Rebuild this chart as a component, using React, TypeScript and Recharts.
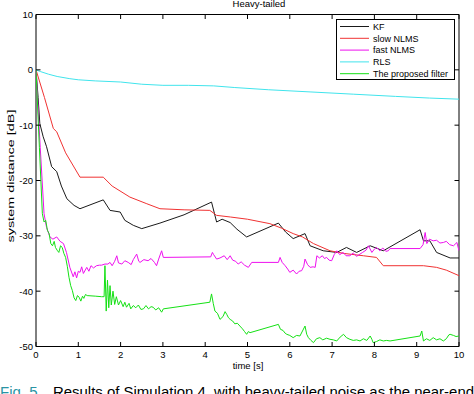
import React from 'react';
import { LineChart, Line, XAxis, YAxis, ReferenceArea, Legend } from 'recharts';

// ---- data ----
const xTicks = [0, 1, 2, 3, 4, 5, 6, 7, 8, 9, 10];
const yTicks = [-50, -40, -30, -20, -10, 0, 10];
const seriesNames = ['KF', 'slow NLMS', 'fast NLMS', 'RLS', 'The proposed filter'];

const rlsTime = [0, 0.1, 0.3, 0.5, 0.8, 1.0, 1.4, 2.0, 2.5, 3.0, 3.6, 4.2, 4.7, 5.5, 6.5, 7.5, 8.5, 9.3, 10];
const rlsDb = [0, -0.3, -0.8, -1.2, -1.6, -1.8, -2.0, -2.2, -2.6, -2.8, -2.8, -2.9, -3.2, -3.6, -4.0, -4.4, -4.8, -5.1, -5.3];

const slowTime = [0, 0.2, 0.41, 0.49, 0.7, 1.04, 1.59, 1.8, 2.22, 2.62, 2.93, 3.5, 4.11, 4.27, 4.6, 5.0, 5.53, 5.8, 6.08, 6.3, 6.56, 6.95, 7.3, 7.74, 8.05, 8.21, 9.16, 9.47, 9.7, 10];
const slowDb = [0, -5, -10.6, -11.2, -15, -19.4, -19.4, -21, -23, -24.2, -25.1, -25.3, -25.4, -26.3, -26.6, -27.0, -27.8, -28.6, -29.6, -30.2, -31.4, -32.7, -33.2, -33.6, -33.9, -35.4, -35.4, -35.7, -36.2, -37.2];

const kfTime = [0, 0.05, 0.09, 0.17, 0.25, 0.37, 0.49, 0.6, 0.73, 0.9, 1.04, 1.59, 1.75, 1.99, 2.1, 2.3, 2.5, 2.93, 3.5, 4.15, 4.27, 4.4, 4.59, 4.75, 4.98, 5.73, 5.9, 6.08, 6.36, 6.48, 6.79, 7.11, 7.34, 7.58, 7.9, 8.21, 9.08, 9.16, 9.31, 9.47, 9.79, 10];
const kfDb = [0, -5, -9.7, -12.1, -13.9, -17.5, -18.4, -21, -23.3, -24.5, -25.1, -23.5, -25.4, -25.7, -27.2, -28.1, -28.7, -27.7, -26.2, -23.9, -27.5, -27.0, -27.6, -28.8, -30.2, -27.7, -29.3, -30.5, -29.6, -31.8, -32.7, -33.0, -32.1, -33.0, -31.8, -32.7, -28.9, -30.9, -30.9, -33.0, -34, -34];

const fastTime = [0, 0.1, 0.19, 0.25, 0.33, 0.4, 0.49, 0.57, 0.65, 0.72, 0.8, 0.88, 0.92, 0.96, 1.0, 1.04, 1.08, 1.12, 1.2, 1.25, 1.3, 1.36, 1.43, 1.5, 1.55, 1.63, 1.7, 1.75, 1.8, 1.86, 1.91, 1.95, 2.03, 2.1, 2.18, 2.25, 2.3, 2.38, 2.43, 2.46, 2.55, 2.65, 2.72, 2.8, 2.85, 2.9, 2.97, 3.01, 4.13, 4.17, 4.2, 4.27, 4.35, 4.45, 4.52, 4.59, 4.65, 4.72, 4.78, 4.85, 4.93, 5.02, 5.1, 5.73, 5.77, 5.82, 5.89, 5.95, 6.0, 6.08, 6.16, 6.22, 6.28, 6.33, 6.36, 6.42, 6.48, 6.55, 6.6, 6.64, 6.7, 6.77, 6.82, 6.87, 6.93, 6.99, 7.05, 7.11, 7.18, 7.26, 7.33, 7.42, 7.5, 7.58, 7.66, 7.72, 7.8, 7.86, 7.94, 8.0, 8.05, 8.13, 8.2, 8.27, 8.33, 8.37, 9.08, 9.15, 9.2, 9.24, 9.3, 9.39, 9.47, 9.55, 9.63, 9.7, 9.78, 9.87, 9.95, 10];
const fastDb = [0, -14, -26, -28.5, -30.2, -30.6, -30.2, -31, -31.4, -33, -35.7, -37.4, -36.5, -37.6, -36.4, -36.6, -35.6, -36.8, -35.7, -36.4, -35.4, -35.8, -35.4, -35.3, -35.3, -35.1, -35.1, -34.8, -35.4, -34.6, -33.6, -34.9, -35.1, -34.5, -34.8, -35.2, -34.3, -33.3, -34.6, -34.8, -34.3, -34.5, -34.1, -34.8, -35.4, -34.2, -32.7, -33.9, -33.8, -33.0, -33.4, -34.2, -34.0, -33.6, -34.3, -33.6, -34.4, -34.6, -35.1, -34.7, -35.3, -35.7, -34.8, -34.8, -33.9, -34.8, -35.4, -36.0, -36.6, -36.2, -36.9, -36.4, -36.3, -35.5, -34.2, -35.2, -35.7, -35.6, -35.7, -33.6, -34.0, -33.6, -34.1, -33.9, -34.4, -34.5, -33.4, -32.7, -33.4, -33.0, -33.6, -33.6, -33.1, -33.7, -33.3, -33.0, -32.6, -31.8, -33.0, -32.4, -32.1, -32.7, -32.2, -32.8, -32.7, -32.3, -32.3, -31.6, -29.4, -31.4, -30.6, -30.9, -30.8, -31.3, -31.2, -31.0, -31.6, -31.8, -31.2, -32.7];

const propTime = [0, 0.08, 0.15, 0.19, 0.23, 0.27, 0.31, 0.35, 0.39, 0.43, 0.46, 0.5, 0.54, 0.58, 0.62, 0.66, 0.7, 0.74, 0.78, 0.82, 0.86, 0.9, 0.94, 0.98, 1.02, 1.06, 1.1, 1.13, 1.17, 1.21, 1.4, 1.55, 1.61, 1.63, 1.66, 1.69, 1.72, 1.75, 1.78, 1.82, 1.86, 1.9, 1.95, 2.0, 2.06, 2.1, 2.14, 2.2, 2.24, 2.3, 2.36, 2.42, 2.48, 2.54, 2.6, 2.66, 2.72, 2.77, 2.83, 2.9, 2.97, 3.01, 4.11, 4.15, 4.19, 4.23, 4.29, 4.35, 4.42, 4.47, 4.51, 4.55, 4.59, 4.65, 4.7, 4.76, 4.82, 4.88, 4.93, 4.98, 5.02, 5.06, 5.73, 5.78, 5.84, 5.89, 5.93, 6.0, 6.08, 6.16, 6.24, 6.3, 6.36, 6.4, 6.44, 6.5, 6.56, 6.63, 6.71, 6.78, 6.87, 6.95, 7.03, 7.11, 7.19, 7.27, 7.34, 7.42, 7.5, 7.58, 7.66, 7.74, 7.82, 7.9, 7.94, 7.97, 8.05, 8.13, 8.21, 8.29, 8.37, 9.08, 9.12, 9.16, 9.23, 9.31, 9.39, 9.47, 9.55, 9.63, 9.7, 9.76, 9.79, 9.87, 9.93, 10];
const propDb = [0, -14, -26, -27.5, -27.2, -29, -29.6, -31.4, -31.8, -31.0, -32.1, -32.6, -33.0, -31.8, -32.1, -33.2, -33.9, -35.5, -37.5, -39.0, -39.9, -41.2, -41.7, -40.8, -41.1, -41.8, -40.9, -41.3, -40.6, -40.8, -40.9, -41.0, -41.0, -35.4, -43.6, -38.0, -43.0, -39.0, -42.5, -40.0, -42.4, -41.0, -42.5, -41.7, -42.8, -42.0, -42.9, -42.2, -43.2, -42.6, -43.0, -42.5, -43.3, -43.2, -42.6, -43.2, -42.8, -42.9, -43.4, -43.0, -43.8, -43.2, -42.0, -40.5, -42.2, -43.6, -44.0, -45.1, -44.6, -43.7, -44.2, -44.8, -45.1, -45.4, -45.9, -45.8, -46.3, -46.8, -47.3, -47.8, -47.3, -47.5, -46.0, -46.9, -47.1, -47.6, -47.8, -48.0, -48.4, -48.0, -48.1, -47.2, -46.3, -47.8, -48.4, -48.9, -49.3, -48.6, -48.4, -48.8, -48.5, -48.7, -48.8, -49.0, -48.3, -47.8, -48.4, -48.7, -48.9, -48.8, -49.0, -48.6, -48.9, -48.1, -48.7, -49.3, -49.1, -48.8, -49.0, -48.9, -49.0, -48.1, -47.2, -49.0, -48.6, -48.9, -48.4, -48.8, -48.6, -49.0, -48.6, -47.9, -47.8, -48.0, -48.2, -48.1];

const zip = (ts: number[], vs: number[]) => ts.map((t, i) => ({ t, v: vs[i] }));

const kfData = zip(kfTime, kfDb);
const slowData = zip(slowTime, slowDb);
const fastData = zip(fastTime, fastDb);
const rlsData = zip(rlsTime, rlsDb);
const propData = zip(propTime, propDb);

// ---- layout ----
const W = 474;
const H = 394;
const PLOT = { left: 36, right: 459, top: 14.5, bottom: 346.5 };
const FONT = '"Liberation Sans", Arial, Helvetica, sans-serif';
const TICK_LEN = 4.5;

const XTick = (props: any) => {
  const { x, payload } = props;
  return (
    <g>
      <line x1={x} x2={x} y1={PLOT.bottom} y2={PLOT.bottom - TICK_LEN} stroke="#000" strokeWidth={1} />
      <line x1={x} x2={x} y1={PLOT.top} y2={PLOT.top + TICK_LEN} stroke="#000" strokeWidth={1} />
      <text x={x} y={358.3} textAnchor="middle" fontSize={9.5} fontFamily={FONT} fill="#000">
        {payload.value}
      </text>
    </g>
  );
};

const YTick = (props: any) => {
  const { y, payload } = props;
  return (
    <g>
      <line x1={PLOT.left} x2={PLOT.left + TICK_LEN} y1={y} y2={y} stroke="#000" strokeWidth={1} />
      <line x1={PLOT.right} x2={PLOT.right - TICK_LEN} y1={y} y2={y} stroke="#000" strokeWidth={1} />
      <text x={33} y={y + 3.4} textAnchor="end" fontSize={9.5} fontFamily={FONT} fill="#000">
        {payload.value}
      </text>
    </g>
  );
};

const renderLegend = (props: any) => {
  const items = [...(props.payload || [])].sort(
    (a: any, b: any) => seriesNames.indexOf(a.value) - seriesNames.indexOf(b.value)
  );
  return (
    <svg width={119} height={61} style={{ display: 'block' }}>
      <rect x={0.5} y={0.5} width={118} height={60} fill="#fff" stroke="#000" strokeWidth={1} />
      {items.map((it: any, i: number) => {
        const cy = 7.5 + i * 11.8;
        return (
          <g key={i}>
            <line x1={4} x2={33} y1={cy} y2={cy} stroke={it.color} strokeWidth={1} />
            <text x={37} y={cy + 3.2} fontSize={9} fontFamily={FONT} fill="#000">
              {it.value}
            </text>
          </g>
        );
      })}
    </svg>
  );
};

export default function App() {
  return (
    <div style={{ position: 'absolute', left: 0, top: 0, width: W, height: H, background: '#fff', overflow: 'hidden' }}>
      <LineChart
        width={W}
        height={H}
        margin={{ top: PLOT.top, right: W - PLOT.right, bottom: H - PLOT.bottom - 20, left: 6 }}
      >
        <XAxis
          dataKey="t"
          type="number"
          domain={[0, 10]}
          ticks={xTicks}
          interval={0}
          height={20}
          axisLine={false}
          tickLine={false}
          tickSize={0}
          tick={<XTick />}
          allowDataOverflow
        />
        <YAxis
          type="number"
          domain={[-50, 10]}
          ticks={yTicks}
          interval={0}
          width={30}
          axisLine={false}
          tickLine={false}
          tickSize={0}
          tick={<YTick />}
          allowDataOverflow
        />
        <ReferenceArea x1={0} x2={10} y1={-50} y2={10} fill="none" fillOpacity={0} stroke="#000" strokeWidth={1} ifOverflow="visible" />
        <Line data={kfData} dataKey="v" name={seriesNames[0]} type="linear" stroke="#1a1a1a" strokeWidth={1} dot={false} isAnimationActive={false} />
        <Line data={slowData} dataKey="v" name={seriesNames[1]} type="linear" stroke="#f03232" strokeWidth={1} dot={false} isAnimationActive={false} />
        <Line data={fastData} dataKey="v" name={seriesNames[2]} type="linear" stroke="#ee10ee" strokeWidth={1} dot={false} isAnimationActive={false} />
        <Line data={rlsData} dataKey="v" name={seriesNames[3]} type="linear" stroke="#40e4ec" strokeWidth={1} dot={false} isAnimationActive={false} />
        <Line data={propData} dataKey="v" name={seriesNames[4]} type="linear" stroke="#14e014" strokeWidth={1} dot={false} isAnimationActive={false} />
        <Legend
          layout="vertical"
          align="center"
          verticalAlign="middle"
          content={renderLegend}
          wrapperStyle={{ position: 'absolute', left: 336, top: 19, width: 119, height: 61 }}
        />
      </LineChart>
      <svg width={W} height={H} style={{ position: 'absolute', left: 0, top: 0, pointerEvents: 'none' }}>
        <text x={259} y={7.3} textAnchor="middle" fontSize={9.5} fontFamily={FONT} fill="#000">Heavy-tailed</text>
        <text x={248} y={369} textAnchor="middle" fontSize={9.5} fontFamily={FONT} fill="#000">time [s]</text>
        <text transform="translate(13.5,176) rotate(-90)" textAnchor="middle" fontSize={9.5} fontFamily={FONT} fill="#000" textLength={133} lengthAdjust="spacingAndGlyphs">system distance [dB]</text>
        <text x={0} y={397} fontSize={15} fontFamily={FONT} fill="#2a94a4">Fig. 5.</text>
        <text x={53} y={397} fontSize={15} fontFamily={FONT} fill="#000" textLength={421} lengthAdjust="spacingAndGlyphs">Results of Simulation 4, with heavy-tailed noise as the near-end</text>
      </svg>
    </div>
  );
}
